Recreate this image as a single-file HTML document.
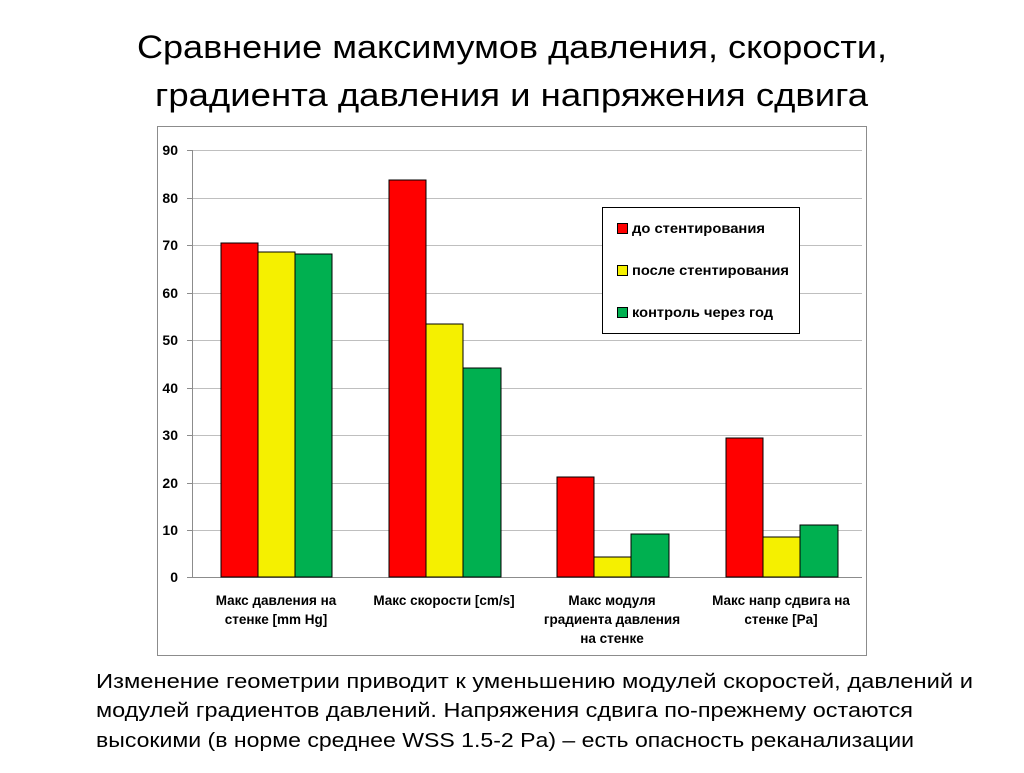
<!DOCTYPE html>
<html><head><meta charset="utf-8"><style>
body{margin:0;background:#fff;width:1024px;height:768px;overflow:hidden;font-family:"Liberation Sans","DejaVu Sans",sans-serif}
</style></head><body>
<svg width="1024" height="768" xmlns="http://www.w3.org/2000/svg" font-family="Liberation Sans, DejaVu Sans, sans-serif">
<text x="137" y="58" font-size="32" textLength="750" lengthAdjust="spacingAndGlyphs" fill="#000">Сравнение максимумов давления, скорости,</text>
<text x="155" y="106" font-size="32" textLength="713" lengthAdjust="spacingAndGlyphs" fill="#000">градиента давления и напряжения сдвига</text>
<rect x="157.5" y="126.5" width="709" height="529" fill="#fff" stroke="#8c8c8c" stroke-width="1"/>
<g stroke="#bfbfbf" stroke-width="1">
<line x1="192" x2="862" y1="150.5" y2="150.5"/><line x1="192" x2="862" y1="198.5" y2="198.5"/>
<line x1="192" x2="862" y1="245.5" y2="245.5"/><line x1="192" x2="862" y1="293.5" y2="293.5"/>
<line x1="192" x2="862" y1="340.5" y2="340.5"/><line x1="192" x2="862" y1="388.5" y2="388.5"/>
<line x1="192" x2="862" y1="435.5" y2="435.5"/><line x1="192" x2="862" y1="483.5" y2="483.5"/>
<line x1="192" x2="862" y1="530.5" y2="530.5"/>
</g>
<g stroke="#8c8c8c"><line x1="192.5" x2="192.5" y1="150" y2="578"/><line x1="192" x2="862" y1="577.5" y2="577.5"/>
<line x1="187" x2="192" y1="150.5" y2="150.5"/><line x1="187" x2="192" y1="198.5" y2="198.5"/><line x1="187" x2="192" y1="245.5" y2="245.5"/><line x1="187" x2="192" y1="293.5" y2="293.5"/><line x1="187" x2="192" y1="340.5" y2="340.5"/><line x1="187" x2="192" y1="388.5" y2="388.5"/><line x1="187" x2="192" y1="435.5" y2="435.5"/><line x1="187" x2="192" y1="483.5" y2="483.5"/><line x1="187" x2="192" y1="530.5" y2="530.5"/><line x1="187" x2="192" y1="577.5" y2="577.5"/>
</g>
<g font-size="14" font-weight="bold" text-anchor="end" fill="#000">
<text x="178" y="155">90</text><text x="178" y="203">80</text><text x="178" y="250">70</text><text x="178" y="298">60</text><text x="178" y="345">50</text><text x="178" y="393">40</text><text x="178" y="440">30</text><text x="178" y="488">20</text><text x="178" y="535">10</text><text x="178" y="582">0</text>
</g>
<g stroke="#000" stroke-width="1">
<rect x="221" y="243" width="37" height="334" fill="#ff0000"/><rect x="258" y="252" width="37" height="325" fill="#f5f000"/><rect x="295" y="254" width="37" height="323" fill="#00b050"/>
<rect x="389" y="180" width="37" height="397" fill="#ff0000"/><rect x="426" y="324" width="37" height="253" fill="#f5f000"/><rect x="463" y="368" width="38" height="209" fill="#00b050"/>
<rect x="557" y="477" width="37" height="100" fill="#ff0000"/><rect x="594" y="557" width="37" height="20" fill="#f5f000"/><rect x="631" y="534" width="38" height="43" fill="#00b050"/>
<rect x="726" y="438" width="37" height="139" fill="#ff0000"/><rect x="763" y="537" width="37" height="40" fill="#f5f000"/><rect x="800" y="525" width="38" height="52" fill="#00b050"/>
</g>
<g font-size="13.5" font-weight="bold" text-anchor="middle" fill="#000">
<text x="276" y="605">Макс давления на</text><text x="276" y="624">стенке [mm Hg]</text>
<text x="444" y="605">Макс скорости [cm/s]</text>
<text x="612" y="605">Макс модуля</text><text x="612" y="624">градиента давления</text><text x="612" y="643">на стенке</text>
<text x="781" y="605">Макс напр сдвига на</text><text x="781" y="624">стенке [Pa]</text>
</g>
<rect x="602.5" y="207.5" width="197" height="126" fill="#fff" stroke="#000"/>
<g stroke="#000"><rect x="617.5" y="223.5" width="10" height="10" fill="#ff0000"/><rect x="617.5" y="265.5" width="10" height="10" fill="#f5f000"/><rect x="617.5" y="307.5" width="10" height="10" fill="#00b050"/></g>
<g font-size="14" font-weight="bold" fill="#000">
<text x="632" y="233" textLength="133" lengthAdjust="spacingAndGlyphs">до стентирования</text><text x="632" y="275" textLength="157" lengthAdjust="spacingAndGlyphs">после стентирования</text><text x="632" y="317" textLength="141" lengthAdjust="spacingAndGlyphs">контроль через год</text>
</g>
<g font-size="20" fill="#000">
<text x="96" y="688" textLength="877" lengthAdjust="spacingAndGlyphs">Изменение геометрии приводит к уменьшению модулей скоростей, давлений и</text>
<text x="96" y="717" textLength="817" lengthAdjust="spacingAndGlyphs">модулей градиентов давлений. Напряжения сдвига по-прежнему остаются</text>
<text x="96" y="747" textLength="818" lengthAdjust="spacingAndGlyphs">высокими (в норме среднее WSS 1.5-2 Pa) – есть опасность реканализации</text>
</g>
</svg>
</body></html>
